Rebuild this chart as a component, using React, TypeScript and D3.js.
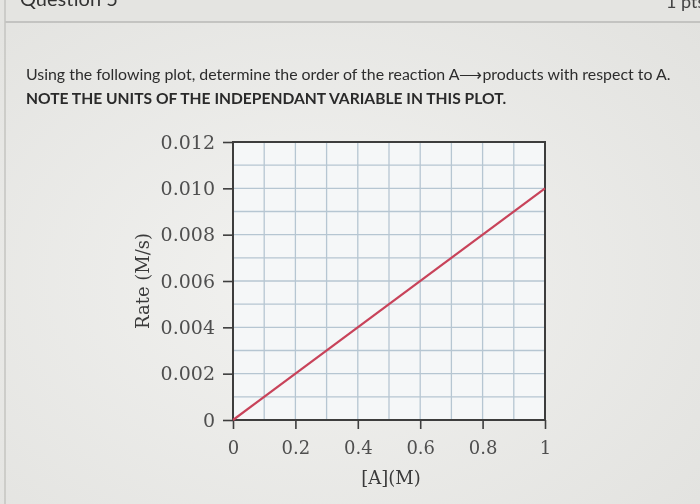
import React, { useEffect, useRef } from "react";
import * as d3 from "d3";

// values
const lineX = [0, 1];
const lineRate = [0, 0.01];
const xTicks = [0, 0.2, 0.4, 0.6, 0.8, 1];
const yTicks = [0, 0.002, 0.004, 0.006, 0.008, 0.01, 0.012];
const xGrid = d3.range(0, 11).map((i) => i / 10);
const yGrid = d3.range(0, 13).map((i) => i / 1000);

const W = 700;
const H = 504;

const App = () => {
  const svgRef = useRef(null);

  useEffect(() => {
    const svg = d3.select(svgRef.current);
    svg.selectAll("*").remove();

    // page background
    const defs = svg.append("defs");
    const grad = defs
      .append("radialGradient")
      .attr("id", "bg")
      .attr("cx", "45%")
      .attr("cy", "55%")
      .attr("r", "75%");
    grad.append("stop").attr("offset", "0%").attr("stop-color", "#f2f2f0");
    grad.append("stop").attr("offset", "100%").attr("stop-color", "#e2e2df");

    svg.append("rect").attr("width", W).attr("height", H).attr("fill", "url(#bg)");
    svg.append("rect").attr("width", W).attr("height", 22).attr("fill", "#e4e4e1");
    svg.append("line").attr("x1", 5).attr("x2", W).attr("y1", 22).attr("y2", 22)
      .attr("stroke", "#b9b9b6").attr("stroke-width", 1.5);
    svg.append("line").attr("x1", 5).attr("x2", 5).attr("y1", 0).attr("y2", H)
      .attr("stroke", "#c4c4c1").attr("stroke-width", 1.5);

    // header, cut off by the top of the photo
    svg.append("text").attr("x", 20).attr("y", 6).text("Question 5")
      .style("font-family", "Lato").style("font-size", "20px").style("fill", "#333");
    svg.append("text").attr("x", 666).attr("y", 8).text("1 pts")
      .style("font-family", "Lato").style("font-size", "18px").style("fill", "#444");

    svg.append("text").attr("x", 26).attr("y", 80)
      .text("Using the following plot, determine the order of the reaction A\u27F6products with respect to A.")
      .style("font-family", "Lato").style("font-size", "15.9px").style("fill", "#2d2d2d");
    svg.append("text").attr("x", 26).attr("y", 104)
      .text("NOTE THE UNITS OF THE INDEPENDANT VARIABLE IN THIS PLOT.")
      .style("font-family", "Lato").style("font-weight", "bold")
      .style("font-size", "15.6px").style("fill", "#2a2a2a");

    // plot
    const left = 233, right = 545, top = 142, bottom = 420;
    const x = d3.scaleLinear().domain([0, 1]).range([left, right]);
    const y = d3.scaleLinear().domain([0, 0.012]).range([bottom, top]);

    svg.append("rect").attr("x", left).attr("y", top)
      .attr("width", right - left).attr("height", bottom - top).attr("fill", "#f5f7f8");

    const grid = svg.append("g").attr("stroke", "#b6c6d2").attr("stroke-width", 1.3);
    grid.selectAll("line.v").data(xGrid).enter().append("line")
      .attr("x1", (d) => x(d)).attr("x2", (d) => x(d)).attr("y1", top).attr("y2", bottom);
    grid.selectAll("line.h").data(yGrid).enter().append("line")
      .attr("x1", left).attr("x2", right).attr("y1", (d) => y(d)).attr("y2", (d) => y(d));

    svg.append("rect").attr("x", left).attr("y", top)
      .attr("width", right - left).attr("height", bottom - top)
      .attr("fill", "none").attr("stroke", "#3d3d3d").attr("stroke-width", 2);

    const serif = "'DejaVu Serif', 'Liberation Serif', serif";

    const yAxis = svg.append("g").attr("transform", `translate(${left},0)`)
      .call(d3.axisLeft(y).tickValues(yTicks).tickSize(10).tickPadding(8)
        .tickFormat((d) => (d === 0 ? "0" : d3.format(".3f")(d))));
    yAxis.select(".domain").remove();
    yAxis.selectAll("line").attr("stroke", "#3d3d3d").attr("stroke-width", 1.6);
    yAxis.selectAll("text").style("font-family", serif).style("font-size", "19px")
      .style("fill", "#4f4f4f");

    const xAxis = svg.append("g").attr("transform", `translate(0,${bottom})`)
      .call(d3.axisBottom(x).tickValues(xTicks).tickSize(9).tickPadding(12)
        .tickFormat((d) => d3.format("")(d)));
    xAxis.select(".domain").remove();
    xAxis.selectAll("line").attr("stroke", "#3d3d3d").attr("stroke-width", 1.6);
    xAxis.selectAll("text").style("font-family", serif).style("font-size", "18px")
      .style("fill", "#4f4f4f");

    const line = d3.line<number>().x((d) => x(d)).y((d, i) => y(lineRate[i]));
    svg.append("path").datum(lineX).attr("d", line).attr("fill", "none")
      .attr("stroke", "#c8435a").attr("stroke-width", 2.2);

    svg.append("text").attr("transform", `translate(149,${(top + bottom) / 2}) rotate(-90)`)
      .attr("text-anchor", "middle").text("Rate (M/s)")
      .style("font-family", serif).style("font-size", "18px").style("fill", "#3a3a3a");
    svg.append("text").attr("x", 391).attr("y", 484).attr("text-anchor", "middle")
      .text("[A](M)")
      .style("font-family", serif).style("font-size", "18px").style("fill", "#3a3a3a");
  }, []);

  return (
    <svg
      ref={svgRef}
      width={W}
      height={H}
      style={{ position: "fixed", top: 0, left: 0 }}
    />
  );
};

export default App;
